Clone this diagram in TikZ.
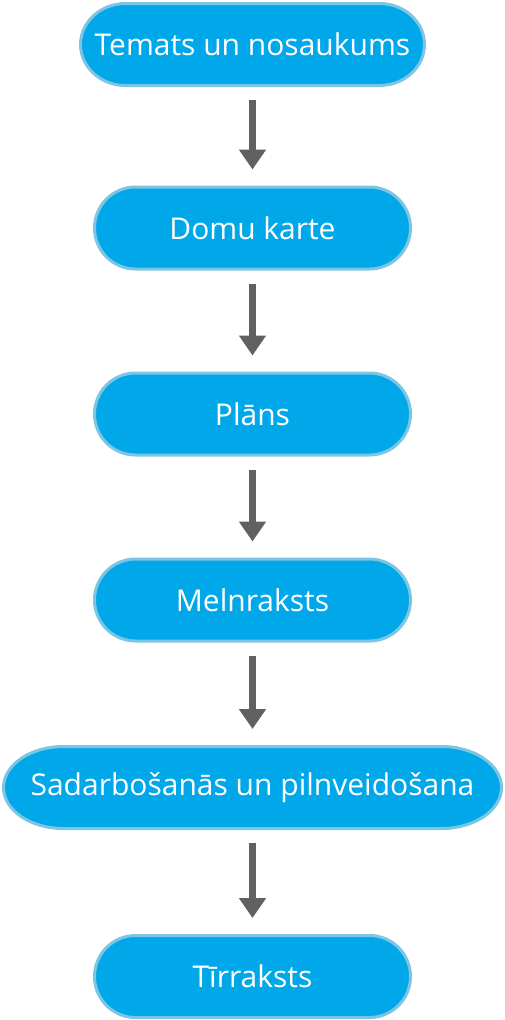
\documentclass[tikz,border=0pt]{standalone}
\usepackage{fontspec}
\setmainfont{Open Sans}
\usetikzlibrary{arrows.meta,backgrounds}
\definecolor{boxfill}{HTML}{00A8EA}
\definecolor{boxline}{HTML}{7CC6E4}
\definecolor{arrowgrey}{HTML}{616161}
\tikzset{
  stepbox/.style={text=white, minimum height=82pt, inner sep=0pt, outer sep=0pt,
    font=\fontsize{30}{34}\selectfont},
  stadiumpath/.style={draw=boxline, line width=3pt, fill=boxfill},
  flowarrow/.style={draw=arrowgrey, line width=7pt,
    -{Triangle[width=26pt,length=20pt]}, shorten <=14.5pt, shorten >=17.5pt}
}
\newcommand\stadiumshape[2]{%
  \path[stadiumpath] ([xshift=#2]#1.north west) -- ([xshift=-#2]#1.north east)
    arc[start angle=90, end angle=-90, x radius=#2, y radius=41pt]
    -- ([xshift=#2]#1.south west)
    arc[start angle=270, end angle=90, x radius=#2, y radius=41pt] -- cycle;}
\begin{document}
\begin{tikzpicture}[x=1pt,y=-1pt]
\useasboundingbox (0,0) rectangle (505,1020);
\node[stepbox, minimum width=344pt] (n1) at (252.5,44.5) {Temats un nosaukums};
\node[stepbox, minimum width=316pt] (n2) at (252.5,228) {Domu karte};
\node[stepbox, minimum width=316pt] (n3) at (252.5,414) {Plāns};
\node[stepbox, minimum width=316pt] (n4) at (252.5,600) {Melnraksts};
\node[stepbox, minimum width=498pt] (n5) at (252.5,787.5) {Sadarbošanās un pilnveidošana};
\node[stepbox, minimum width=316pt] (n6) at (252.5,976.5) {Tīrraksts};
\begin{scope}[on background layer]
\stadiumshape{n1}{45pt}
\stadiumshape{n2}{41pt}
\stadiumshape{n3}{41pt}
\stadiumshape{n4}{41pt}
\stadiumshape{n5}{60pt}
\stadiumshape{n6}{41pt}
\end{scope}
\draw[flowarrow] (n1.south) -- (n2.north);
\draw[flowarrow] (n2.south) -- (n3.north);
\draw[flowarrow] (n3.south) -- (n4.north);
\draw[flowarrow] (n4.south) -- (n5.north);
\draw[flowarrow] (n5.south) -- (n6.north);
\end{tikzpicture}
\end{document}
